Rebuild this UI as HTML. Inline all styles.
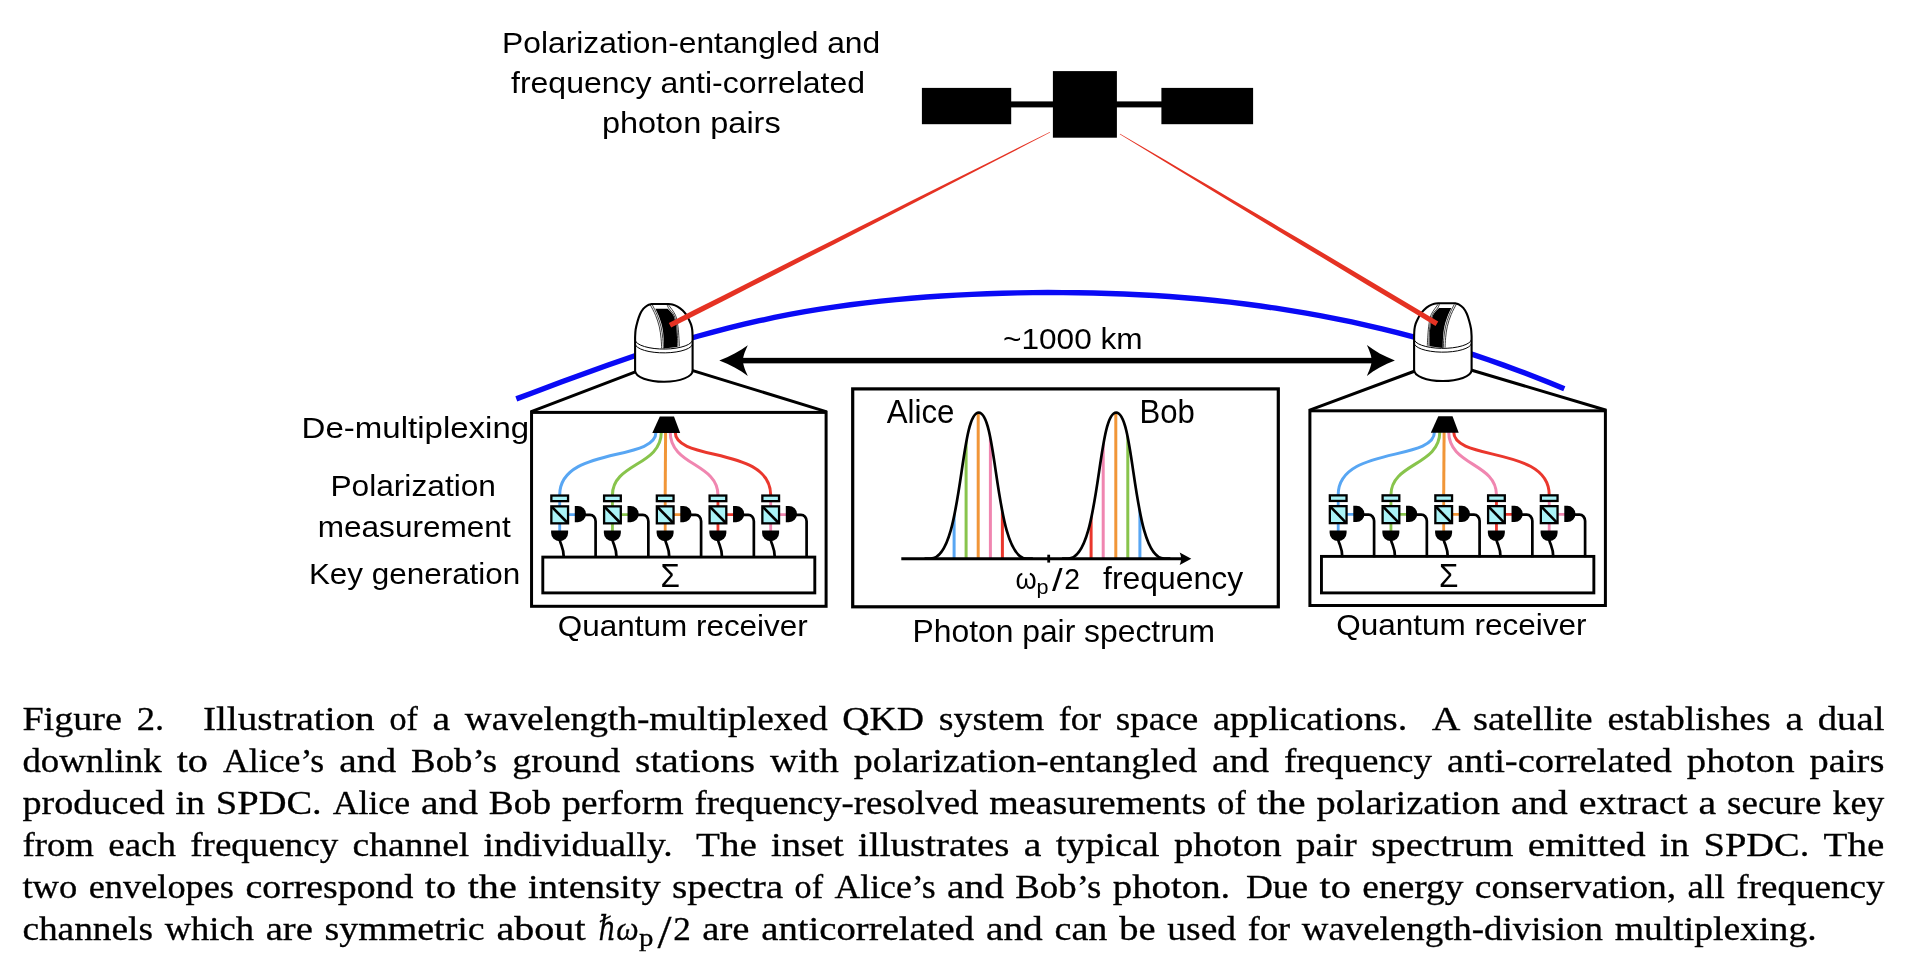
<!DOCTYPE html>
<html lang="en"><head><meta charset="utf-8"><title>Figure 2</title>
<style>html,body{margin:0;padding:0;background:#fff}body{width:1906px;height:970px;overflow:hidden}svg{will-change:transform}svg text{white-space:pre}</style>
</head><body>
<svg width="1906" height="970" viewBox="0 0 1906 970" style="display:block"><g font-family='"Liberation Serif", "DejaVu Serif", serif' font-size="34.5" fill="#000" stroke="#000" stroke-width="0.3">
<text y="729.75"><tspan x="22.4" textLength="99.58" lengthAdjust="spacingAndGlyphs">Figure</tspan> <tspan x="136.67" textLength="27.45" lengthAdjust="spacingAndGlyphs">2.</tspan> <tspan x="202.95" textLength="171.77" lengthAdjust="spacingAndGlyphs">Illustration</tspan> <tspan x="389.42" textLength="28.42" lengthAdjust="spacingAndGlyphs">of</tspan> <tspan x="432.54" textLength="17.64" lengthAdjust="spacingAndGlyphs">a</tspan> <tspan x="464.88" textLength="362.73" lengthAdjust="spacingAndGlyphs">wavelength-multiplexed</tspan> <tspan x="842.31" textLength="81.83" lengthAdjust="spacingAndGlyphs">QKD</tspan> <tspan x="938.84" textLength="105.29" lengthAdjust="spacingAndGlyphs">system</tspan> <tspan x="1058.82" textLength="42.23" lengthAdjust="spacingAndGlyphs">for</tspan> <tspan x="1115.74" textLength="82.55" lengthAdjust="spacingAndGlyphs">space</tspan> <tspan x="1212.98" textLength="194.28" lengthAdjust="spacingAndGlyphs">applications.</tspan> <tspan x="1431.74" textLength="26.46" lengthAdjust="spacingAndGlyphs">A</tspan> <tspan x="1472.9" textLength="119.81" lengthAdjust="spacingAndGlyphs">satellite</tspan> <tspan x="1607.4" textLength="163.33" lengthAdjust="spacingAndGlyphs">establishes</tspan> <tspan x="1785.42" textLength="17.65" lengthAdjust="spacingAndGlyphs">a</tspan> <tspan x="1817.76" textLength="66.66" lengthAdjust="spacingAndGlyphs">dual</tspan></text>
<text y="771.86"><tspan x="22.4" textLength="139.17" lengthAdjust="spacingAndGlyphs">downlink</tspan> <tspan x="176.65" textLength="31.36" lengthAdjust="spacingAndGlyphs">to</tspan> <tspan x="223.05" textLength="101.17" lengthAdjust="spacingAndGlyphs">Alice’s</tspan> <tspan x="339.25" textLength="56.86" lengthAdjust="spacingAndGlyphs">and</tspan> <tspan x="411.14" textLength="85.96" lengthAdjust="spacingAndGlyphs">Bob’s</tspan> <tspan x="512.18" textLength="107.9" lengthAdjust="spacingAndGlyphs">ground</tspan> <tspan x="635.12" textLength="119.97" lengthAdjust="spacingAndGlyphs">stations</tspan> <tspan x="770.13" textLength="68.62" lengthAdjust="spacingAndGlyphs">with</tspan> <tspan x="853.79" textLength="343.18" lengthAdjust="spacingAndGlyphs">polarization-entangled</tspan> <tspan x="1212" textLength="56.86" lengthAdjust="spacingAndGlyphs">and</tspan> <tspan x="1283.9" textLength="148.11" lengthAdjust="spacingAndGlyphs">frequency</tspan> <tspan x="1447.08" textLength="224.64" lengthAdjust="spacingAndGlyphs">anti-correlated</tspan> <tspan x="1686.76" textLength="107.82" lengthAdjust="spacingAndGlyphs">photon</tspan> <tspan x="1809.62" textLength="74.77" lengthAdjust="spacingAndGlyphs">pairs</tspan></text>
<text y="813.97"><tspan x="22.4" textLength="142.2" lengthAdjust="spacingAndGlyphs">produced</tspan> <tspan x="175.56" textLength="29.4" lengthAdjust="spacingAndGlyphs">in</tspan> <tspan x="215.88" textLength="105.86" lengthAdjust="spacingAndGlyphs">SPDC.</tspan> <tspan x="332.66" textLength="77.44" lengthAdjust="spacingAndGlyphs">Alice</tspan> <tspan x="421.05" textLength="56.86" lengthAdjust="spacingAndGlyphs">and</tspan> <tspan x="488.82" textLength="62.24" lengthAdjust="spacingAndGlyphs">Bob</tspan> <tspan x="561.98" textLength="121.73" lengthAdjust="spacingAndGlyphs">perform</tspan> <tspan x="694.63" textLength="283.7" lengthAdjust="spacingAndGlyphs">frequency-resolved</tspan> <tspan x="989.25" textLength="217.12" lengthAdjust="spacingAndGlyphs">measurements</tspan> <tspan x="1217.33" textLength="28.42" lengthAdjust="spacingAndGlyphs">of</tspan> <tspan x="1256.67" textLength="49.02" lengthAdjust="spacingAndGlyphs">the</tspan> <tspan x="1316.61" textLength="183.4" lengthAdjust="spacingAndGlyphs">polarization</tspan> <tspan x="1510.92" textLength="56.86" lengthAdjust="spacingAndGlyphs">and</tspan> <tspan x="1578.69" textLength="108.9" lengthAdjust="spacingAndGlyphs">extract</tspan> <tspan x="1698.54" textLength="17.64" lengthAdjust="spacingAndGlyphs">a</tspan> <tspan x="1727.1" textLength="94.41" lengthAdjust="spacingAndGlyphs">secure</tspan> <tspan x="1832.42" textLength="51.98" lengthAdjust="spacingAndGlyphs">key</tspan></text>
<text y="856.08"><tspan x="22.4" textLength="71.63" lengthAdjust="spacingAndGlyphs">from</tspan> <tspan x="108.32" textLength="67.63" lengthAdjust="spacingAndGlyphs">each</tspan> <tspan x="190.23" textLength="148.11" lengthAdjust="spacingAndGlyphs">frequency</tspan> <tspan x="352.63" textLength="116.68" lengthAdjust="spacingAndGlyphs">channel</tspan> <tspan x="483.59" textLength="189.16" lengthAdjust="spacingAndGlyphs">individually.</tspan> <tspan x="696" textLength="60.78" lengthAdjust="spacingAndGlyphs">The</tspan> <tspan x="771.07" textLength="72.74" lengthAdjust="spacingAndGlyphs">inset</tspan> <tspan x="858.09" textLength="151.44" lengthAdjust="spacingAndGlyphs">illustrates</tspan> <tspan x="1023.81" textLength="17.65" lengthAdjust="spacingAndGlyphs">a</tspan> <tspan x="1055.74" textLength="103.89" lengthAdjust="spacingAndGlyphs">typical</tspan> <tspan x="1173.91" textLength="107.82" lengthAdjust="spacingAndGlyphs">photon</tspan> <tspan x="1296.01" textLength="60.86" lengthAdjust="spacingAndGlyphs">pair</tspan> <tspan x="1371.15" textLength="142.43" lengthAdjust="spacingAndGlyphs">spectrum</tspan> <tspan x="1527.87" textLength="117.65" lengthAdjust="spacingAndGlyphs">emitted</tspan> <tspan x="1659.8" textLength="29.41" lengthAdjust="spacingAndGlyphs">in</tspan> <tspan x="1703.49" textLength="105.86" lengthAdjust="spacingAndGlyphs">SPDC.</tspan> <tspan x="1823.63" textLength="60.79" lengthAdjust="spacingAndGlyphs">The</tspan></text>
<text y="898.19"><tspan x="22.4" textLength="54.9" lengthAdjust="spacingAndGlyphs">two</tspan> <tspan x="88.73" textLength="145.29" lengthAdjust="spacingAndGlyphs">envelopes</tspan> <tspan x="245.45" textLength="168" lengthAdjust="spacingAndGlyphs">correspond</tspan> <tspan x="424.88" textLength="31.37" lengthAdjust="spacingAndGlyphs">to</tspan> <tspan x="467.68" textLength="49.03" lengthAdjust="spacingAndGlyphs">the</tspan> <tspan x="528.14" textLength="132.51" lengthAdjust="spacingAndGlyphs">intensity</tspan> <tspan x="672.08" textLength="111.07" lengthAdjust="spacingAndGlyphs">spectra</tspan> <tspan x="794.58" textLength="28.43" lengthAdjust="spacingAndGlyphs">of</tspan> <tspan x="834.44" textLength="101.17" lengthAdjust="spacingAndGlyphs">Alice’s</tspan> <tspan x="947.04" textLength="56.85" lengthAdjust="spacingAndGlyphs">and</tspan> <tspan x="1015.32" textLength="85.96" lengthAdjust="spacingAndGlyphs">Bob’s</tspan> <tspan x="1112.72" textLength="117.62" lengthAdjust="spacingAndGlyphs">photon.</tspan> <tspan x="1245.9" textLength="62.25" lengthAdjust="spacingAndGlyphs">Due</tspan> <tspan x="1319.58" textLength="31.37" lengthAdjust="spacingAndGlyphs">to</tspan> <tspan x="1362.38" textLength="101.07" lengthAdjust="spacingAndGlyphs">energy</tspan> <tspan x="1474.88" textLength="201.23" lengthAdjust="spacingAndGlyphs">conservation,</tspan> <tspan x="1687.62" textLength="37.24" lengthAdjust="spacingAndGlyphs">all</tspan> <tspan x="1736.3" textLength="148.11" lengthAdjust="spacingAndGlyphs">frequency</tspan></text>
<text y="940.3"><tspan x="22.4" textLength="130.56" lengthAdjust="spacingAndGlyphs">channels</tspan> <tspan x="164.74" textLength="89.18" lengthAdjust="spacingAndGlyphs">which</tspan> <tspan x="265.7" textLength="47.14" lengthAdjust="spacingAndGlyphs">are</tspan> <tspan x="324.58" textLength="160.07" lengthAdjust="spacingAndGlyphs">symmetric</tspan> <tspan x="496.42" textLength="89.18" lengthAdjust="spacingAndGlyphs">about</tspan> <tspan x="598.6" textLength="17.4" lengthAdjust="spacingAndGlyphs" font-style="italic">ℏ</tspan><tspan x="616.3" textLength="22.4" lengthAdjust="spacingAndGlyphs" font-style="italic">ω</tspan><tspan x="639" dy="5.3" textLength="14.4" lengthAdjust="spacingAndGlyphs" font-size="25">p</tspan><tspan x="657.6" y="948" font-size="46" textLength="14" lengthAdjust="spacingAndGlyphs">/</tspan><tspan x="673.3" y="940.3" textLength="17.6" lengthAdjust="spacingAndGlyphs">2</tspan> <tspan x="702.37" textLength="47.14" lengthAdjust="spacingAndGlyphs">are</tspan> <tspan x="761.26" textLength="212.87" lengthAdjust="spacingAndGlyphs">anticorrelated</tspan> <tspan x="985.91" textLength="56.85" lengthAdjust="spacingAndGlyphs">and</tspan> <tspan x="1054.5" textLength="52.94" lengthAdjust="spacingAndGlyphs">can</tspan> <tspan x="1119.21" textLength="36.3" lengthAdjust="spacingAndGlyphs">be</tspan> <tspan x="1167.25" textLength="68.82" lengthAdjust="spacingAndGlyphs">used</tspan> <tspan x="1247.85" textLength="42.23" lengthAdjust="spacingAndGlyphs">for</tspan> <tspan x="1301.82" textLength="301.13" lengthAdjust="spacingAndGlyphs">wavelength-division</tspan> <tspan x="1614.73" textLength="201.92" lengthAdjust="spacingAndGlyphs">multiplexing.</tspan></text>
</g>
<g font-family='"Liberation Sans", "DejaVu Sans", sans-serif' fill="#000">
<text x="502.1" y="52.8" font-size="30.2" textLength="378.1" lengthAdjust="spacingAndGlyphs">Polarization-entangled and</text>
<text x="511" y="93.1" font-size="30.2" textLength="354.1" lengthAdjust="spacingAndGlyphs">frequency anti-correlated</text>
<text x="601.9" y="132.5" font-size="30.2" textLength="178.8" lengthAdjust="spacingAndGlyphs">photon pairs</text>
<text x="1003" y="348.5" font-size="29.6" textLength="139.6" lengthAdjust="spacingAndGlyphs">~1000 km</text>
<text x="301.6" y="438.2" font-size="30.0" textLength="227.6" lengthAdjust="spacingAndGlyphs">De-multiplexing</text>
<text x="330.4" y="496.3" font-size="30.0" textLength="165.6" lengthAdjust="spacingAndGlyphs">Polarization</text>
<text x="317.7" y="536.5" font-size="30.0" textLength="193" lengthAdjust="spacingAndGlyphs">measurement</text>
<text x="308.9" y="583.6" font-size="30.0" textLength="211.4" lengthAdjust="spacingAndGlyphs">Key generation</text>
<text x="557.8" y="635.7" font-size="30.2" textLength="250" lengthAdjust="spacingAndGlyphs">Quantum receiver</text>
<text x="1336.3" y="635.4" font-size="30.2" textLength="250.3" lengthAdjust="spacingAndGlyphs">Quantum receiver</text>
<text x="886.7" y="422.8" font-size="32.6" textLength="67.8" lengthAdjust="spacingAndGlyphs">Alice</text>
<text x="1139.6" y="422.6" font-size="32.6" textLength="55.3" lengthAdjust="spacingAndGlyphs">Bob</text>
<text x="1103.1" y="588.8" font-size="31.5" textLength="140" lengthAdjust="spacingAndGlyphs">frequency</text>
<text x="912.5" y="642" font-size="31.8" textLength="302.5" lengthAdjust="spacingAndGlyphs">Photon pair spectrum</text>
<text y="588.8" font-size="30"><tspan x="1015.6" textLength="21.2" lengthAdjust="spacingAndGlyphs">ω</tspan><tspan x="1036.6" dy="5.2" font-size="20" textLength="12" lengthAdjust="spacingAndGlyphs">p</tspan><tspan x="1051.9" y="590.9" font-size="30.6" textLength="10.6" lengthAdjust="spacingAndGlyphs">/</tspan><tspan x="1064.2" y="588.8" font-size="29.5" textLength="15.8" lengthAdjust="spacingAndGlyphs">2</tspan></text>
</g>
<g fill="#000">
<rect x="921.9" y="87.9" width="89.3" height="36.3"/>
<rect x="1052.9" y="71.1" width="64" height="66.6"/>
<rect x="1161.4" y="87.9" width="91.7" height="36.3"/>
<rect x="1010" y="101.4" width="153" height="6"/>
</g>
<path d="M516.3,398.87 L531.49,393.18 L546.68,387.48 L561.87,381.81 L577.05,376.2 L592.24,370.67 L607.43,365.24 L622.62,359.95 L637.81,354.8 L653,349.82 L668.18,345.02 L683.37,340.42 L698.56,336.03 L713.75,331.85 L728.94,327.9 L744.13,324.19 L759.31,320.71 L774.5,317.47 L789.69,314.46 L804.88,311.69 L820.07,309.15 L835.26,306.83 L850.44,304.72 L865.63,302.82 L880.82,301.12 L896.01,299.59 L911.2,298.23 L926.39,297.04 L941.58,295.99 L956.76,295.1 L971.95,294.34 L987.14,293.73 L1002.33,293.24 L1017.52,292.88 L1032.71,292.65 L1047.89,292.55 L1063.08,292.58 L1078.27,292.73 L1093.46,293.02 L1108.65,293.44 L1123.84,294 L1139.02,294.7 L1154.21,295.56 L1169.4,296.56 L1184.59,297.72 L1199.78,299.05 L1214.97,300.53 L1230.16,302.19 L1245.34,304.01 L1260.53,306.02 L1275.72,308.2 L1290.91,310.57 L1306.1,313.12 L1321.29,315.87 L1336.47,318.81 L1351.66,321.95 L1366.85,325.3 L1382.04,328.85 L1397.23,332.61 L1412.42,336.58 L1427.6,340.78 L1442.79,345.19 L1457.98,349.82 L1473.17,354.69 L1488.36,359.79 L1503.55,365.12 L1518.73,370.68 L1533.92,376.49 L1549.11,382.55 L1564.3,388.85" fill="none" stroke="#0A0AF5" stroke-width="5.4" stroke-linejoin="round"/>
<g transform="translate(663.85,0)"><path d="M-28.75,371 L-28.75,337.1 C-28.66,335.83 -28.61,332.12 -28.2,329.5 C-27.79,326.88 -27.02,323.95 -26.3,321.4 C-25.58,318.85 -24.83,316.33 -23.85,314.2 C-22.87,312.07 -21.66,310.08 -20.4,308.6 C-19.14,307.12 -17.65,306.08 -16.3,305.3 C-14.95,304.52 -12.97,304.18 -12.3,303.95 L3.86,303.95 C4.63,304.02 6.86,303.96 8.5,304.4 C10.14,304.84 11.97,305.57 13.7,306.6 C15.43,307.63 17.47,309.25 18.9,310.6 C20.33,311.95 21.25,313.15 22.3,314.7 C23.35,316.25 24.38,318.25 25.2,319.9 C26.02,321.55 26.72,322.92 27.25,324.6 C27.78,326.28 28.15,327.92 28.4,330 C28.65,332.08 28.69,335.92 28.75,337.1 L28.75,370.6 A28.75,10.9 0 0 1 -28.75,371 Z" fill="#fff" stroke="#000" stroke-width="2.1" stroke-linejoin="round"/><path d="M-8.55,308.7 C-8.02,309.8 -6.53,312.27 -5.37,315.3 C-4.21,318.33 -2.49,323.05 -1.62,326.9 C-0.76,330.75 -0.47,334.78 -0.18,338.4 C0.11,342.02 0.06,346.9 0.11,348.6 L13.3,347 C13.28,345.57 13.35,341.75 13.2,338.4 C13.05,335.05 13.02,330.75 12.4,326.9 C11.78,323.05 10.95,318.33 9.5,315.3 C8.05,312.27 4.67,309.8 3.7,308.7 Z" fill="#000"/><path d="M-13.46,305 C-12.59,306.72 -9.75,311.65 -8.26,315.3 C-6.77,318.95 -5.42,323.05 -4.51,326.9 C-3.6,330.75 -3.16,334.83 -2.78,338.4 C-2.4,341.97 -2.3,346.65 -2.2,348.3 M-11.44,305 C-10.62,306.72 -7.97,311.65 -6.53,315.3 C-5.09,318.95 -3.69,323.05 -2.78,326.9 C-1.86,330.75 -1.43,334.8 -1.04,338.4 C-0.66,342 -0.56,346.82 -0.47,348.5 M3.29,305 C3.61,305.62 4.05,306.98 5.2,308.7 C6.35,310.42 8.92,312.27 10.2,315.3 C11.48,318.33 12.32,323.05 12.9,326.9 C13.48,330.75 13.5,335.07 13.68,338.4 C13.86,341.73 13.92,345.48 13.97,346.9 M4.73,305 C5.89,306.72 10.09,311.65 11.66,315.3 C13.23,318.95 13.56,323.05 14.14,326.9 C14.72,330.75 14.89,335.15 15.12,338.4 C15.35,341.65 15.46,345.07 15.53,346.4" fill="none" stroke="#000" stroke-width="0.75"/><path d="M-28.75,339.9 A28.75,9.6 0 0 0 28.75,339.0 M-28.75,343.9 A28.75,9.4 0 0 0 28.75,343.0" fill="none" stroke="#000" stroke-width="1"/></g>
<g transform="translate(1442.85,-0.7) scale(-1,1)"><path d="M-28.75,371 L-28.75,337.1 C-28.66,335.83 -28.61,332.12 -28.2,329.5 C-27.79,326.88 -27.02,323.95 -26.3,321.4 C-25.58,318.85 -24.83,316.33 -23.85,314.2 C-22.87,312.07 -21.66,310.08 -20.4,308.6 C-19.14,307.12 -17.65,306.08 -16.3,305.3 C-14.95,304.52 -12.97,304.18 -12.3,303.95 L3.86,303.95 C4.63,304.02 6.86,303.96 8.5,304.4 C10.14,304.84 11.97,305.57 13.7,306.6 C15.43,307.63 17.47,309.25 18.9,310.6 C20.33,311.95 21.25,313.15 22.3,314.7 C23.35,316.25 24.38,318.25 25.2,319.9 C26.02,321.55 26.72,322.92 27.25,324.6 C27.78,326.28 28.15,327.92 28.4,330 C28.65,332.08 28.69,335.92 28.75,337.1 L28.75,370.6 A28.75,10.9 0 0 1 -28.75,371 Z" fill="#fff" stroke="#000" stroke-width="2.1" stroke-linejoin="round"/><path d="M-8.55,308.7 C-8.02,309.8 -6.53,312.27 -5.37,315.3 C-4.21,318.33 -2.49,323.05 -1.62,326.9 C-0.76,330.75 -0.47,334.78 -0.18,338.4 C0.11,342.02 0.06,346.9 0.11,348.6 L13.3,347 C13.28,345.57 13.35,341.75 13.2,338.4 C13.05,335.05 13.02,330.75 12.4,326.9 C11.78,323.05 10.95,318.33 9.5,315.3 C8.05,312.27 4.67,309.8 3.7,308.7 Z" fill="#000"/><path d="M-13.46,305 C-12.59,306.72 -9.75,311.65 -8.26,315.3 C-6.77,318.95 -5.42,323.05 -4.51,326.9 C-3.6,330.75 -3.16,334.83 -2.78,338.4 C-2.4,341.97 -2.3,346.65 -2.2,348.3 M-11.44,305 C-10.62,306.72 -7.97,311.65 -6.53,315.3 C-5.09,318.95 -3.69,323.05 -2.78,326.9 C-1.86,330.75 -1.43,334.8 -1.04,338.4 C-0.66,342 -0.56,346.82 -0.47,348.5 M3.29,305 C3.61,305.62 4.05,306.98 5.2,308.7 C6.35,310.42 8.92,312.27 10.2,315.3 C11.48,318.33 12.32,323.05 12.9,326.9 C13.48,330.75 13.5,335.07 13.68,338.4 C13.86,341.73 13.92,345.48 13.97,346.9 M4.73,305 C5.89,306.72 10.09,311.65 11.66,315.3 C13.23,318.95 13.56,323.05 14.14,326.9 C14.72,330.75 14.89,335.15 15.12,338.4 C15.35,341.65 15.46,345.07 15.53,346.4" fill="none" stroke="#000" stroke-width="0.75"/><path d="M-28.75,339.9 A28.75,9.6 0 0 0 28.75,339.0 M-28.75,343.9 A28.75,9.4 0 0 0 28.75,343.0" fill="none" stroke="#000" stroke-width="1"/></g>
<polygon points="1049.76,132.03 1022.51,145.58 995.26,159.13 968.01,172.69 940.77,186.26 913.53,199.83 886.3,213.43 859.08,227.03 831.86,240.66 804.66,254.3 777.47,267.97 750.29,281.66 723.12,295.38 695.97,309.12 668.82,322.88 671.18,327.52 698.31,313.73 725.42,299.91 752.53,286.07 779.62,272.2 806.7,258.31 833.76,244.4 860.82,230.47 887.87,216.52 914.91,202.55 941.94,188.57 968.97,174.58 996,160.58 1023.02,146.58 1050.04,132.57" fill="#E53223"/>
<polygon points="1119.75,134.16 1142.26,147.94 1164.77,161.71 1187.28,175.48 1209.8,189.24 1232.33,202.99 1254.87,216.73 1277.41,230.45 1299.97,244.16 1322.53,257.84 1345.11,271.51 1367.7,285.15 1390.31,298.77 1412.93,312.36 1435.56,325.93 1438.24,321.47 1415.59,307.92 1392.92,294.4 1370.24,280.91 1347.55,267.44 1324.84,253.99 1302.12,240.56 1279.39,227.15 1256.65,213.76 1233.9,200.38 1211.14,187.01 1188.37,173.66 1165.6,160.32 1142.83,146.98 1120.05,133.64" fill="#E53223"/>
<g fill="#000">
<rect x="735" y="357.85" width="645" height="5.5"/>
<path d="M719.3,360.6 C730,356.5 740,351 747.8,345.2 C744.2,353 743,357 743,360.6 C743,364.2 744.2,368 747.8,376.0 C740,370 730,364.7 719.3,360.6 Z"/>
<path d="M1394.9,360.5 C1384,356.4 1374.5,351 1366.9,345.1 C1370.4,353 1371.6,357 1371.6,360.5 C1371.6,364 1370.4,368 1366.9,375.9 C1374.5,370 1384,364.6 1394.9,360.5 Z"/>
</g>
<g stroke="#000" stroke-width="3" fill="none">
<path d="M530.6,411.9 L636,371.6 M826.9,411.9 L692,370.4"/>
<path d="M1309,410.3 L1415,371 M1606.3,410.3 L1471,370"/>
</g>
<g transform="translate(0,0)"><rect x="531.55" y="412.4" width="294.55" height="193.9" fill="none" stroke="#000" stroke-width="3"/><rect x="542.8" y="557.1" width="272" height="35.8" fill="#fff" stroke="#000" stroke-width="2.9"/><text x="660.5" y="587.4" font-family='"Liberation Sans", "DejaVu Sans", sans-serif' font-size="33.5" textLength="19.4" lengthAdjust="spacingAndGlyphs" fill="#000">Σ</text><path d="M656,432 C656,462 559.7,446 559.7,495" fill="none" stroke="#58A6F3" stroke-width="3"/><path d="M661.3,432 C661.3,466 612.45,463 612.45,495" fill="none" stroke="#88C44C" stroke-width="3"/><path d="M665.6,432 L665.2,495" fill="none" stroke="#F19638" stroke-width="3"/><path d="M670.2,432 C670.2,466 717.95,463 717.95,495" fill="none" stroke="#F086B0" stroke-width="3"/><path d="M675.2,432 C675.2,462 770.7,446 770.7,495" fill="none" stroke="#EA372D" stroke-width="3"/><polygon points="659.8,416.5 674,416.5 680.2,433 652.3,433" fill="#000"/><path d="M559.7,500 V532 M568.2,514.6 H576.2" stroke="#58A6F3" stroke-width="2.8" fill="none"/><rect x="551.35" y="495.55" width="16.7" height="5.6" fill="#AAF3F7" stroke="#000" stroke-width="2.3"/><rect x="551.35" y="506.35" width="16.7" height="17" fill="#AAF3F7" stroke="#000" stroke-width="2.3"/><path d="M551.7,506.7 L567.7,523" stroke="#000" stroke-width="2.6"/><path d="M574.8,506 h3.1 a8.1,8.1 0 0 1 0,16.2 h-3.1 z" fill="#000"/><path d="M551.1,530.6 h17 v2.3 a8.5,8.4 0 0 1 -17,0 z" fill="#000"/><path d="M584.2,514.8 h5.8 a5.6,6.5 0 0 1 5.6,6.5 V557.5 M559.7,540 C561.2,546 563.8,548 563.8,557.5" fill="none" stroke="#000" stroke-width="2.7"/><path d="M612.45,500 V532 M620.95,514.6 H628.95" stroke="#88C44C" stroke-width="2.8" fill="none"/><rect x="604.1" y="495.55" width="16.7" height="5.6" fill="#AAF3F7" stroke="#000" stroke-width="2.3"/><rect x="604.1" y="506.35" width="16.7" height="17" fill="#AAF3F7" stroke="#000" stroke-width="2.3"/><path d="M604.45,506.7 L620.45,523" stroke="#000" stroke-width="2.6"/><path d="M627.55,506 h3.1 a8.1,8.1 0 0 1 0,16.2 h-3.1 z" fill="#000"/><path d="M603.85,530.6 h17 v2.3 a8.5,8.4 0 0 1 -17,0 z" fill="#000"/><path d="M636.95,514.8 h5.8 a5.6,6.5 0 0 1 5.6,6.5 V557.5 M612.45,540 C613.95,546 616.55,548 616.55,557.5" fill="none" stroke="#000" stroke-width="2.7"/><path d="M665.2,500 V532 M673.7,514.6 H681.7" stroke="#F19638" stroke-width="2.8" fill="none"/><rect x="656.85" y="495.55" width="16.7" height="5.6" fill="#AAF3F7" stroke="#000" stroke-width="2.3"/><rect x="656.85" y="506.35" width="16.7" height="17" fill="#AAF3F7" stroke="#000" stroke-width="2.3"/><path d="M657.2,506.7 L673.2,523" stroke="#000" stroke-width="2.6"/><path d="M680.3,506 h3.1 a8.1,8.1 0 0 1 0,16.2 h-3.1 z" fill="#000"/><path d="M656.6,530.6 h17 v2.3 a8.5,8.4 0 0 1 -17,0 z" fill="#000"/><path d="M689.7,514.8 h5.8 a5.6,6.5 0 0 1 5.6,6.5 V557.5 M665.2,540 C666.7,546 669.3,548 669.3,557.5" fill="none" stroke="#000" stroke-width="2.7"/><path d="M717.95,500 V532 M726.45,514.6 H734.45" stroke="#EA372D" stroke-width="2.8" fill="none"/><rect x="709.6" y="495.55" width="16.7" height="5.6" fill="#AAF3F7" stroke="#000" stroke-width="2.3"/><rect x="709.6" y="506.35" width="16.7" height="17" fill="#AAF3F7" stroke="#000" stroke-width="2.3"/><path d="M709.95,506.7 L725.95,523" stroke="#000" stroke-width="2.6"/><path d="M733.05,506 h3.1 a8.1,8.1 0 0 1 0,16.2 h-3.1 z" fill="#000"/><path d="M709.35,530.6 h17 v2.3 a8.5,8.4 0 0 1 -17,0 z" fill="#000"/><path d="M742.45,514.8 h5.8 a5.6,6.5 0 0 1 5.6,6.5 V557.5 M717.95,540 C719.45,546 722.05,548 722.05,557.5" fill="none" stroke="#000" stroke-width="2.7"/><path d="M770.7,500 V532 M779.2,514.6 H787.2" stroke="#F086B0" stroke-width="2.8" fill="none"/><rect x="762.35" y="495.55" width="16.7" height="5.6" fill="#AAF3F7" stroke="#000" stroke-width="2.3"/><rect x="762.35" y="506.35" width="16.7" height="17" fill="#AAF3F7" stroke="#000" stroke-width="2.3"/><path d="M762.7,506.7 L778.7,523" stroke="#000" stroke-width="2.6"/><path d="M785.8,506 h3.1 a8.1,8.1 0 0 1 0,16.2 h-3.1 z" fill="#000"/><path d="M762.1,530.6 h17 v2.3 a8.5,8.4 0 0 1 -17,0 z" fill="#000"/><path d="M795.2,514.8 h5.8 a5.6,6.5 0 0 1 5.6,6.5 V557.5 M770.7,540 C772.2,546 774.8,548 774.8,557.5" fill="none" stroke="#000" stroke-width="2.7"/></g>
<g transform="translate(778.5,-0.2)"><rect x="531.4" y="411" width="295.5" height="194.7" fill="none" stroke="#000" stroke-width="3"/><rect x="542.95" y="556.6" width="272.4" height="36.5" fill="#fff" stroke="#000" stroke-width="2.9"/><text x="660.5" y="587.4" font-family='"Liberation Sans", "DejaVu Sans", sans-serif' font-size="33.5" textLength="19.4" lengthAdjust="spacingAndGlyphs" fill="#000">Σ</text><path d="M656,432 C656,462 559.7,446 559.7,495" fill="none" stroke="#58A6F3" stroke-width="3"/><path d="M661.3,432 C661.3,466 612.45,463 612.45,495" fill="none" stroke="#88C44C" stroke-width="3"/><path d="M665.6,432 L665.2,495" fill="none" stroke="#F19638" stroke-width="3"/><path d="M670.2,432 C670.2,466 717.95,463 717.95,495" fill="none" stroke="#F086B0" stroke-width="3"/><path d="M675.2,432 C675.2,462 770.7,446 770.7,495" fill="none" stroke="#EA372D" stroke-width="3"/><polygon points="659.8,416.5 674,416.5 680.2,433 652.3,433" fill="#000"/><path d="M559.7,500 V532 M568.2,514.6 H576.2" stroke="#58A6F3" stroke-width="2.8" fill="none"/><rect x="551.35" y="495.55" width="16.7" height="5.6" fill="#AAF3F7" stroke="#000" stroke-width="2.3"/><rect x="551.35" y="506.35" width="16.7" height="17" fill="#AAF3F7" stroke="#000" stroke-width="2.3"/><path d="M551.7,506.7 L567.7,523" stroke="#000" stroke-width="2.6"/><path d="M574.8,506 h3.1 a8.1,8.1 0 0 1 0,16.2 h-3.1 z" fill="#000"/><path d="M551.1,530.6 h17 v2.3 a8.5,8.4 0 0 1 -17,0 z" fill="#000"/><path d="M584.2,514.8 h5.8 a5.6,6.5 0 0 1 5.6,6.5 V557.5 M559.7,540 C561.2,546 563.8,548 563.8,557.5" fill="none" stroke="#000" stroke-width="2.7"/><path d="M612.45,500 V532 M620.95,514.6 H628.95" stroke="#88C44C" stroke-width="2.8" fill="none"/><rect x="604.1" y="495.55" width="16.7" height="5.6" fill="#AAF3F7" stroke="#000" stroke-width="2.3"/><rect x="604.1" y="506.35" width="16.7" height="17" fill="#AAF3F7" stroke="#000" stroke-width="2.3"/><path d="M604.45,506.7 L620.45,523" stroke="#000" stroke-width="2.6"/><path d="M627.55,506 h3.1 a8.1,8.1 0 0 1 0,16.2 h-3.1 z" fill="#000"/><path d="M603.85,530.6 h17 v2.3 a8.5,8.4 0 0 1 -17,0 z" fill="#000"/><path d="M636.95,514.8 h5.8 a5.6,6.5 0 0 1 5.6,6.5 V557.5 M612.45,540 C613.95,546 616.55,548 616.55,557.5" fill="none" stroke="#000" stroke-width="2.7"/><path d="M665.2,500 V532 M673.7,514.6 H681.7" stroke="#F19638" stroke-width="2.8" fill="none"/><rect x="656.85" y="495.55" width="16.7" height="5.6" fill="#AAF3F7" stroke="#000" stroke-width="2.3"/><rect x="656.85" y="506.35" width="16.7" height="17" fill="#AAF3F7" stroke="#000" stroke-width="2.3"/><path d="M657.2,506.7 L673.2,523" stroke="#000" stroke-width="2.6"/><path d="M680.3,506 h3.1 a8.1,8.1 0 0 1 0,16.2 h-3.1 z" fill="#000"/><path d="M656.6,530.6 h17 v2.3 a8.5,8.4 0 0 1 -17,0 z" fill="#000"/><path d="M689.7,514.8 h5.8 a5.6,6.5 0 0 1 5.6,6.5 V557.5 M665.2,540 C666.7,546 669.3,548 669.3,557.5" fill="none" stroke="#000" stroke-width="2.7"/><path d="M717.95,500 V532 M726.45,514.6 H734.45" stroke="#EA372D" stroke-width="2.8" fill="none"/><rect x="709.6" y="495.55" width="16.7" height="5.6" fill="#AAF3F7" stroke="#000" stroke-width="2.3"/><rect x="709.6" y="506.35" width="16.7" height="17" fill="#AAF3F7" stroke="#000" stroke-width="2.3"/><path d="M709.95,506.7 L725.95,523" stroke="#000" stroke-width="2.6"/><path d="M733.05,506 h3.1 a8.1,8.1 0 0 1 0,16.2 h-3.1 z" fill="#000"/><path d="M709.35,530.6 h17 v2.3 a8.5,8.4 0 0 1 -17,0 z" fill="#000"/><path d="M742.45,514.8 h5.8 a5.6,6.5 0 0 1 5.6,6.5 V557.5 M717.95,540 C719.45,546 722.05,548 722.05,557.5" fill="none" stroke="#000" stroke-width="2.7"/><path d="M770.7,500 V532 M779.2,514.6 H787.2" stroke="#F086B0" stroke-width="2.8" fill="none"/><rect x="762.35" y="495.55" width="16.7" height="5.6" fill="#AAF3F7" stroke="#000" stroke-width="2.3"/><rect x="762.35" y="506.35" width="16.7" height="17" fill="#AAF3F7" stroke="#000" stroke-width="2.3"/><path d="M762.7,506.7 L778.7,523" stroke="#000" stroke-width="2.6"/><path d="M785.8,506 h3.1 a8.1,8.1 0 0 1 0,16.2 h-3.1 z" fill="#000"/><path d="M762.1,530.6 h17 v2.3 a8.5,8.4 0 0 1 -17,0 z" fill="#000"/><path d="M795.2,514.8 h5.8 a5.6,6.5 0 0 1 5.6,6.5 V557.5 M770.7,540 C772.2,546 774.8,548 774.8,557.5" fill="none" stroke="#000" stroke-width="2.7"/></g>
<rect x="852.7" y="388.9" width="425.6" height="217.9" fill="none" stroke="#000" stroke-width="3.2"/>
<clipPath id="bell0"><path d="M924.55,558.7 L930.55,558.7 C963.17,558.7 959.12,412.7 978.7,412.7 C998.28,412.7 994.23,558.7 1026.85,558.7 L1032.85,558.7 Z"/></clipPath>
<g clip-path="url(#bell0)">
<path d="M954.1,558.7 V412.7" stroke="#58A6F3" stroke-width="3"/>
<path d="M966.1,558.7 V412.7" stroke="#88C44C" stroke-width="3"/>
<path d="M978.2,558.7 V412.7" stroke="#F19638" stroke-width="3"/>
<path d="M990.4,558.7 V412.7" stroke="#F086B0" stroke-width="3"/>
<path d="M1002.4,558.7 V412.7" stroke="#EA372D" stroke-width="3"/>
</g>
<clipPath id="bell1"><path d="M1062.05,558.7 L1068.05,558.7 C1100.67,558.7 1096.62,412.7 1116.2,412.7 C1135.78,412.7 1131.73,558.7 1164.35,558.7 L1170.35,558.7 Z"/></clipPath>
<g clip-path="url(#bell1)">
<path d="M1091.1,558.7 V412.7" stroke="#EA372D" stroke-width="3"/>
<path d="M1103.2,558.7 V412.7" stroke="#F086B0" stroke-width="3"/>
<path d="M1115.8,558.7 V412.7" stroke="#F19638" stroke-width="3"/>
<path d="M1127.8,558.7 V412.7" stroke="#88C44C" stroke-width="3"/>
<path d="M1139.9,558.7 V412.7" stroke="#58A6F3" stroke-width="3"/>
</g>
<path d="M901.3,558.7 H1183" stroke="#000" stroke-width="3"/>
<path d="M1191.3,558.7 L1179.7,552.5 Q1182.4,558.7 1179.7,564.9 Z" fill="#000"/>
<path d="M1048.7,554.7 V562.6" stroke="#000" stroke-width="2.8"/>
<path d="M924.55,558.7 L930.55,558.7 C963.17,558.7 959.12,412.7 978.7,412.7 C998.28,412.7 994.23,558.7 1026.85,558.7 L1032.85,558.7" fill="none" stroke="#000" stroke-width="2.7" stroke-linejoin="round"/>
<path d="M1062.05,558.7 L1068.05,558.7 C1100.67,558.7 1096.62,412.7 1116.2,412.7 C1135.78,412.7 1131.73,558.7 1164.35,558.7 L1170.35,558.7" fill="none" stroke="#000" stroke-width="2.7" stroke-linejoin="round"/></svg>
</body></html>
